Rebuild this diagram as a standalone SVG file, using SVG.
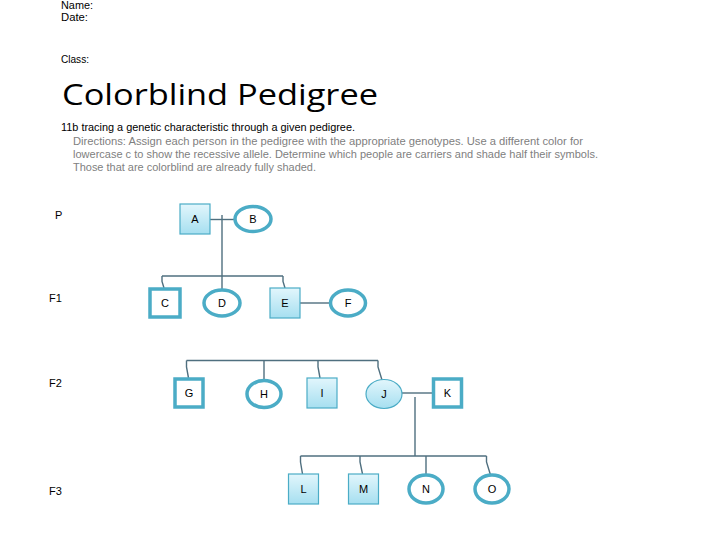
<svg xmlns="http://www.w3.org/2000/svg" width="720" height="540" viewBox="0 0 720 540">
<defs>
<linearGradient id="blue" x1="0" y1="0" x2="0" y2="1">
<stop offset="0" stop-color="#e2f6fc"/>
<stop offset="1" stop-color="#a6dff0"/>
</linearGradient>
<style>
text{font-family:"Liberation Sans",Arial,sans-serif;fill:#000}
.hd{font-size:11px}
.gr{font-size:10.5px;fill:#808080}
.lb{font-size:11px;text-anchor:middle}
.gen{font-size:11px}
.fill{fill:url(#blue);stroke:#4bacc6;stroke-width:1.2}
.thick{fill:#fff;stroke:#4bacc6;stroke-width:3.5}
.ln{fill:none;stroke:#4f6f7f;stroke-width:1.4}
</style>
</defs>
<rect width="720" height="540" fill="#fff"/>

<text class="hd" x="61" y="9" textLength="32" lengthAdjust="spacingAndGlyphs">Name:</text>
<text class="hd" x="61" y="21" textLength="27" lengthAdjust="spacingAndGlyphs">Date:</text>
<text class="hd" x="61" y="63" textLength="28" lengthAdjust="spacingAndGlyphs">Class:</text>
<text x="62" y="105" style="font-family:'Open Sans','Liberation Sans',sans-serif;font-size:30px" textLength="316" lengthAdjust="spacingAndGlyphs">Colorblind Pedigree</text>
<text class="hd" x="61" y="131" textLength="294" lengthAdjust="spacingAndGlyphs">11b tracing a genetic characteristic through a given pedigree.</text>
<text class="gr" x="73" y="145" textLength="510" lengthAdjust="spacingAndGlyphs">Directions:  Assign each person in the pedigree with the appropriate genotypes.  Use a different color for</text>
<text class="gr" x="73" y="158" textLength="525" lengthAdjust="spacingAndGlyphs">lowercase c to show the recessive allele.  Determine which people are carriers and shade half their symbols.</text>
<text class="gr" x="73" y="171" textLength="243" lengthAdjust="spacingAndGlyphs">Those that are colorblind are already fully shaded.</text>

<g id="generations">
<text class="gen" x="55" y="219">P</text>
<text class="gen" x="49" y="302">F1</text>
<text class="gen" x="49" y="387">F2</text>
<text class="gen" x="49" y="495">F3</text>
</g>

<g id="connectors">
<line class="ln" x1="210" y1="219.5" x2="234" y2="219.5"/>
<line class="ln" x1="222" y1="215" x2="222" y2="289"/>
<line class="ln" x1="162" y1="276" x2="283" y2="276"/>
<polyline class="ln" points="162,276 162,281.5 164,288"/>
<polyline class="ln" points="283,276 283,281.5 285,288"/>
<line class="ln" x1="300" y1="303" x2="331" y2="303"/>
<line class="ln" x1="186.5" y1="360.5" x2="378" y2="360.5"/>
<polyline class="ln" points="186.5,360.5 186.5,367 188.5,378"/>
<line class="ln" x1="264" y1="360.5" x2="264" y2="380"/>
<polyline class="ln" points="318,360.5 318,367 320,378"/>
<polyline class="ln" points="378,360.5 378,367 382,380"/>
<line class="ln" x1="402" y1="393" x2="433" y2="393"/>
<line class="ln" x1="415" y1="397" x2="415" y2="456"/>
<line class="ln" x1="300.5" y1="456" x2="486.5" y2="456"/>
<polyline class="ln" points="300.5,456 300.5,462 302.5,474"/>
<polyline class="ln" points="360,456 360,462 362.5,474"/>
<line class="ln" x1="426" y1="456" x2="426" y2="475"/>
<polyline class="ln" points="486.5,456 486.5,462 490.5,475"/>
</g>

<g id="A"><rect class="fill" x="180" y="204" width="30" height="30"/><text class="lb" x="195" y="223">A</text></g>
<g id="B"><ellipse class="thick" cx="253" cy="219" rx="18" ry="12.5"/><text class="lb" x="253" y="223">B</text></g>
<g id="C"><rect class="thick" x="150" y="289" width="30" height="28"/><text class="lb" x="165" y="307">C</text></g>
<g id="D"><ellipse class="thick" cx="222" cy="303" rx="18" ry="13"/><text class="lb" x="222" y="307">D</text></g>
<g id="E"><rect class="fill" x="270" y="288" width="30" height="30"/><text class="lb" x="285" y="307">E</text></g>
<g id="F"><ellipse class="thick" cx="348" cy="303" rx="17.5" ry="13"/><text class="lb" x="348" y="307">F</text></g>
<g id="G"><rect class="thick" x="175" y="379" width="28" height="28"/><text class="lb" x="189" y="397">G</text></g>
<g id="H"><ellipse class="thick" cx="264" cy="394" rx="17" ry="13.5"/><text class="lb" x="264" y="398">H</text></g>
<g id="I"><rect class="fill" x="307" y="378" width="30" height="30"/><text class="lb" x="322" y="397">I</text></g>
<g id="J"><ellipse class="fill" cx="384" cy="394" rx="18" ry="14.5"/><text class="lb" x="384" y="398">J</text></g>
<g id="K"><rect class="thick" x="433.5" y="379" width="28" height="28"/><text class="lb" x="447.5" y="397">K</text></g>
<g id="L"><rect class="fill" x="288.5" y="474" width="30" height="30"/><text class="lb" x="303.5" y="493">L</text></g>
<g id="M"><rect class="fill" x="348.5" y="474" width="30" height="30"/><text class="lb" x="363.5" y="493">M</text></g>
<g id="N"><ellipse class="thick" cx="426" cy="489" rx="17" ry="14"/><text class="lb" x="426" y="493">N</text></g>
<g id="O"><ellipse class="thick" cx="492" cy="489" rx="17" ry="14"/><text class="lb" x="492" y="493">O</text></g>
</svg>
